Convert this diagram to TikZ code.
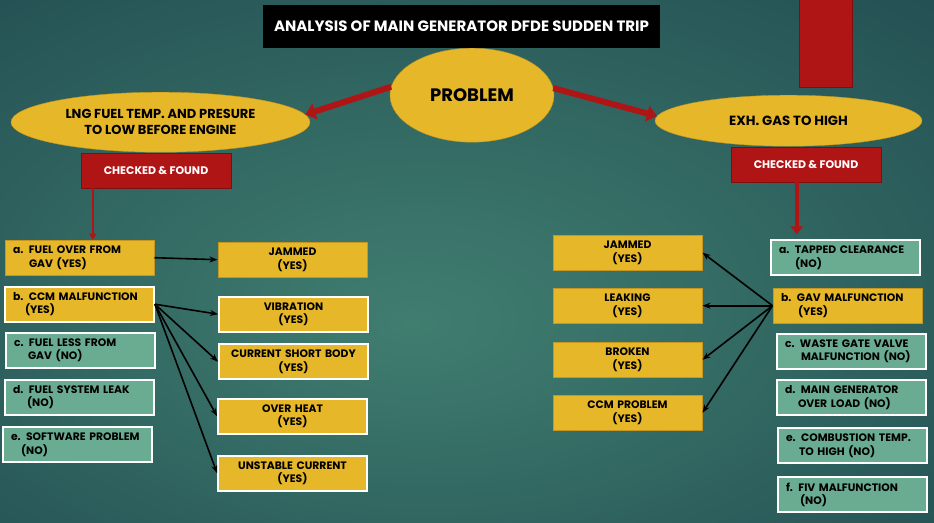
\documentclass[tikz,border=0pt]{standalone}
\usepackage{fontspec}
\setmainfont{Poppins}
\usetikzlibrary{shapes.geometric,arrows.meta,calc}

\definecolor{bgin}{RGB}{64,126,112}
\definecolor{bgout}{RGB}{18,52,66}
\definecolor{gold}{RGB}{230,183,41}
\definecolor{goldline}{RGB}{198,150,30}
\definecolor{sage}{RGB}{106,172,146}
\definecolor{brick}{RGB}{176,21,21}
\definecolor{brickline}{RGB}{128,14,14}

\pgfdeclareradialshading{glow}{\pgfpoint{-3bp}{-6bp}}{color(0bp)=(bgin); color(62bp)=(bgout)}

\newcommand{\hang}[1]{\\\hspace*{#1pt}}

\begin{document}
\begin{tikzpicture}[x=1pt,y=-1pt,
	font=\bfseries\fontsize{10.8}{13.5}\selectfont,
	box/.style={rectangle,minimum height=35pt,inner xsep=8pt,inner ysep=0pt,text width=133pt},
	yes/.style={box,fill=gold,draw=goldline,line width=1pt},
	yesw/.style={box,fill=gold,draw=white,line width=1.8pt},
	no/.style={box,fill=sage,draw=white,line width=1.8pt},
	mid/.style={align=center},
	lft/.style={align=left},
	blob/.style={ellipse,fill=gold,draw=goldline,inner sep=0pt},
	chk/.style={rectangle,fill=brick,draw=brickline,text=white,minimum width=150pt,minimum height=35pt,font=\bfseries\fontsize{11}{13}\selectfont},
	link/.style={-{Stealth[length=8pt,width=6pt]},line width=1.6pt},
	fat/.style={brick,line width=6pt,-{Triangle[length=10pt,width=16pt]}}]
	% background
	\shade[shading=glow] (0,0) rectangle (934,522);
	\fill[brick] (799,0) rectangle (852,87);
	\draw[brickline] (799,0) -- (799,87) -- (852,87) -- (852,0);
	% title and problem
	\node[fill=black,text=white,minimum width=397pt,minimum height=43pt,
		font=\bfseries\fontsize{15}{17}\selectfont] (title) at (461.5,26.5)
		{ANALYSIS OF MAIN GENERATOR DFDE SUDDEN TRIP};
	\node[blob,minimum width=164pt,minimum height=94pt,
		font=\bfseries\fontsize{18}{20}\selectfont] (prob) at (472,95) {PROBLEM};
	\node[blob,minimum width=299pt,minimum height=60pt,align=center,
		font=\bfseries\fontsize{13}{16}\selectfont] (lfuel) at (160.5,122)
		{LNG FUEL TEMP. AND PRESURE\\TO LOW BEFORE ENGINE};
	\node[blob,minimum width=267pt,minimum height=51pt,
		font=\bfseries\fontsize{13.3}{16}\selectfont] (rexh) at (788.5,120.5)
		{EXH. GAS TO HIGH};
	\draw[fat] (prob.174) -- (lfuel.3);
	\draw[fat] (prob.5) -- (rexh.178);
	\node[chk] (lchk) at (156,170.5) {CHECKED \& FOUND};
	\node[chk] (rchk) at (806,164.5) {CHECKED \& FOUND};

	% left side
	\node[yes,lft] (la) at (79.5,257.5) {a. FUEL OVER FROM\hang{16}GAV (YES)};
	\node[yesw,lft] (lb) at (79.5,304) {b. CCM MALFUNCTION\hang{12}(YES)};
	\node[no,lft] (lc) at (80.5,350) {c. FUEL LESS FROM\hang{14}GAV (NO)};
	\node[no,lft] (ld) at (79.5,397) {d. FUEL SYSTEM LEAK\hang{14}(NO)};
	\node[no,lft] (le) at (77.5,444.5) {e. SOFTWARE PROBLEM\hang{10}(NO)};

	\node[yes,mid] (ljam) at (292.5,259.5) {JAMMED\\(YES)};
	\node[yesw,mid] (lvib) at (293.5,314) {VIBRATION\\(YES)};
	\node[yesw,mid] (lshort) at (293.5,361.5) {CURRENT SHORT BODY\\(YES)};
	\node[yesw,mid] (lheat) at (292.5,416) {OVER HEAT\\(YES)};
	\node[yesw,mid] (lunst) at (292.5,473) {UNSTABLE CURRENT\\(YES)};

	\draw[brick,line width=2.5pt,-{Triangle[length=6pt,width=7pt]}]
		([xshift=12pt]lchk.south west) -- ([xshift=12pt]lchk.south west |- la.north);
	\draw[link] (la.east) -- (ljam.west);
	\foreach \t in {lvib,lshort,lheat,lunst}
		\draw[link] (lb.east) -- (\t.west);

	% right side
	\node[yes,mid] (rjam) at (627.5,252.5) {JAMMED\\(YES)};
	\node[yes,mid] (rleak) at (627.5,305.5) {LEAKING\\(YES)};
	\node[yes,mid] (rbroke) at (627.5,359.5) {BROKEN\\(YES)};
	\node[yes,mid] (rccm) at (627.5,412.5) {CCM PROBLEM\\(YES)};

	\node[no,lft] (ra) at (845.5,257.5) {a. TAPPED CLEARANCE\hang{16}(NO)};
	\node[yes,lft] (rb) at (847.5,305.5) {b. GAV MALFUNCTION\hang{17}(YES)};
	\node[no,lft] (rc) at (851.5,351) {c. WASTE GATE VALVE\hang{16}MALFUNCTION (NO)};
	\node[no,lft] (rd) at (851.5,397.5) {d. MAIN GENERATOR\hang{13}OVER LOAD (NO)};
	\node[no,lft] (re) at (852.5,445.5) {e. COMBUSTION TEMP.\hang{13}TO HIGH (NO)};
	\node[no,lft] (rf) at (852.5,494.5) {f. FIV MALFUNCTION\hang{14}(NO)};

	\draw[brick,line width=4pt,shorten >=5pt,-{Triangle[length=8pt,width=12pt]}]
		([xshift=66pt]rchk.south west) -- ([xshift=66pt]rchk.south west |- ra.north);
	\foreach \t in {rjam,rleak,rbroke,rccm}
		\draw[link] (rb.west) -- (\t.east);
\end{tikzpicture}
\end{document}
